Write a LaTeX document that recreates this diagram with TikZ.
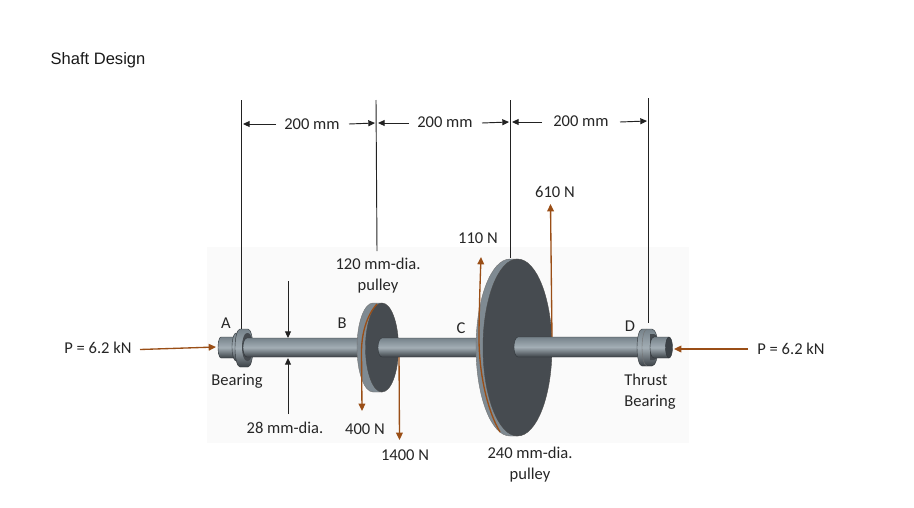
\documentclass[tikz,border=0pt]{standalone}
\usepackage{fontspec}
\setmainfont{Carlito}
\newfontfamily\titlefont{Liberation Sans}
\usetikzlibrary{arrows.meta}
\definecolor{brownline}{HTML}{9A4E16}
\definecolor{dimline}{HTML}{222222}
\definecolor{plate}{HTML}{464B50}
\definecolor{rim}{HTML}{7F8A92}
\definecolor{steeltop}{HTML}{76828A}
\definecolor{steelmid}{HTML}{A3AEB5}
\definecolor{steelbot}{HTML}{3C4247}
\tikzset{
  lab/.style={inner sep=0pt,font=\fontsize{12.4pt}{15.75pt}\selectfont,text=black!85,align=center},
  dimarrow/.style={draw=dimline,line width=0.7pt,-{Triangle[length=5pt,width=4.5pt]}},
  extline/.style={draw=dimline,line width=0.7pt},
  force/.style={draw=brownline,line width=1pt,-{Triangle[length=5.5pt,width=5pt]}},
  steel/.style={top color=steeltop,bottom color=steelbot,middle color=steelmid,draw=steelbot!80!black,line width=0.3pt},
  disc/.style={fill=plate,draw=black!70,line width=0.3pt},
  rimdisc/.style={fill=rim,draw=black!55,line width=0.3pt},
}
\begin{document}
\begin{tikzpicture}[x=0.75pt,y=-0.75pt]
\useasboundingbox (0,0) rectangle (914,507);
\fill[white] (0,0) rectangle (914,507);
\fill[black!2] (207,247) rectangle (689,443);

\node[inner sep=0pt,font=\titlefont\fontsize{12.4pt}{15pt}\selectfont,text=black!90] (title) at (98,60) {Shaft Design};

% extension lines
\coordinate (a1) at (241,100); \coordinate (a2) at (241,330);
\coordinate (b1) at (376,100); \coordinate (b2) at (377,251);
\coordinate (c1) at (510,100); \coordinate (c2) at (510,258);
\coordinate (d1) at (648,98);  \coordinate (d2) at (648,323);
\draw[extline] (a1) -- (a2);
\draw[extline] (b1) -- (b2);
\draw[extline] (c1) -- (c2);
\draw[extline] (d1) -- (d2);

% dimensions
\node[lab] (d200a) at (312,124) {200 mm};
\node[lab] (d200b) at (445,122) {200 mm};
\node[lab] (d200c) at (581,121) {200 mm};
\coordinate (a1s) at (276,124); \coordinate (a1e) at (243,124);
\coordinate (a2s) at (349,124); \coordinate (a2e) at (375,123);
\coordinate (b1s) at (409,123); \coordinate (b1e) at (378,123);
\coordinate (b2s) at (482,123); \coordinate (b2e) at (509,122);
\coordinate (c1s) at (542,122); \coordinate (c1e) at (512,122);
\coordinate (c2s) at (620,122); \coordinate (c2e) at (647,121);
\draw[dimarrow] (a1s) -- (a1e);
\draw[dimarrow] (a2s) -- (a2e);
\draw[dimarrow] (b1s) -- (b1e);
\draw[dimarrow] (b2s) -- (b2e);
\draw[dimarrow] (c1s) -- (c1e);
\draw[dimarrow] (c2s) -- (c2e);

% left stub and bearing A
\draw[steel] (221,337) -- (234,337) -- (234,358) -- (221,358) arc[start angle=90,end angle=270,x radius=3,y radius=10.5] -- cycle;
\draw[steel] (236,333) -- (240,333) -- (240,361) -- (236,361) arc[start angle=90,end angle=270,x radius=4,y radius=14] -- cycle;
\draw[steel] (240,329) -- (248,329) arc[start angle=-90,end angle=90,x radius=5,y radius=19] -- (240,367) arc[start angle=90,end angle=270,x radius=5,y radius=19] -- cycle;
% shaft A-B
\fill[plate] (248,333) arc[start angle=-90,end angle=90,x radius=5,y radius=14] -- (247,361) arc[start angle=90,end angle=270,x radius=5,y radius=14] -- cycle;
\draw[steel] (247,338) -- (360,338) -- (360,357) -- (247,357) arc[start angle=90,end angle=270,x radius=4,y radius=9.5] -- cycle;

% pulley B
\draw[rimdisc] (373,303) -- (382,303) -- (382,392) -- (373,392) arc[start angle=90,end angle=270,x radius=16,y radius=44.5] -- cycle;
\draw[disc] (382,347.5) ellipse[x radius=16.5,y radius=44.5];
\coordinate (bb0) at (377,304); \coordinate (bb1) at (362,411);
\draw[force] (bb0) .. controls (366,316) and (361.5,335) .. (361.5,352) -- (bb1);
\coordinate (bf0) at (399,352); \coordinate (bf1) at (399.5,440);
\draw[force] (bf0) -- (bf1);
% shaft B-C, visible on the face of B and beyond
\draw[steel] (382,338) -- (478,338) -- (478,357) -- (382,357) arc[start angle=90,end angle=270,x radius=4,y radius=9.5] -- cycle;

% pulley C
\draw[rimdisc] (510,259) -- (517.5,259) -- (517.5,436) -- (510,436) arc[start angle=90,end angle=270,x radius=34,y radius=88.5] -- cycle;
\coordinate (cb0) at (500,432); \coordinate (cb1) at (481,257);
\draw[force] (cb0) .. controls (488,412) and (479,375) .. (479,338) .. controls (479,315) and (480,285) .. (cb1);
\draw[disc] (517.5,347.5) ellipse[x radius=34.5,y radius=88.5];
\coordinate (cf0) at (552,338); \coordinate (cf1) at (550.5,204);
\draw[force] (cf0) -- (cf1);
% shaft C-D
\draw[steel] (518,337) -- (640,337) -- (640,357) -- (518,357) arc[start angle=90,end angle=270,x radius=4,y radius=10] -- cycle;

% bearing D
\draw[steel] (642,329) -- (652,329) arc[start angle=-90,end angle=90,x radius=6,y radius=18.5] -- (642,366) arc[start angle=90,end angle=270,x radius=5,y radius=18.5] -- cycle;
\draw[black!55,line width=0.3pt] (647,329) arc[start angle=270,end angle=90,x radius=5,y radius=18.5];
\fill[plate] (654,334) arc[start angle=-90,end angle=90,x radius=5,y radius=13] -- (650,360) -- (650,334) -- cycle;
\draw[steel] (654,337) -- (669,337) -- (669,358) -- (654,358) arc[start angle=90,end angle=270,x radius=4,y radius=10.5] -- cycle;
\draw[fill=steelbot,draw=steelbot!80!black,line width=0.3pt] (669,347.5) ellipse[x radius=3.5,y radius=10.5];

% shaft diameter
\coordinate (s1) at (288,281); \coordinate (s2) at (288,338);
\coordinate (s3) at (288,414); \coordinate (s4) at (288,358);
\draw[dimarrow] (s1) -- (s2);
\draw[dimarrow] (s3) -- (s4);

% axial forces
\coordinate (p1) at (140,349.5); \coordinate (p2) at (216,347);
\coordinate (p3) at (748,349);  \coordinate (p4) at (674,349);
\draw[force] (p1) -- (p2);
\draw[force] (p3) -- (p4);

% labels
\node[lab] (lp1) at (98,348) {P = 6.2 kN};
\node[lab] (lp2) at (791,349) {P = 6.2 kN};
\node[lab] (la) at (226,323) {A};
\node[lab] (lb) at (342,323) {B};
\node[lab] (lc) at (461,328) {C};
\node[lab] (ld) at (630,326) {D};
\node[lab] (lbearing) at (237,381.5) {Bearing};
\node[lab,align=left] (lthrust) at (650,391.5) {Thrust\\Bearing};
\node[lab] (ldia) at (285,427.5) {28 mm-dia.};
\node[lab] (l400) at (365,429) {400 N};
\node[lab] (l1400) at (405,455) {1400 N};
\node[lab] (l110) at (478,238) {110 N};
\node[lab] (l610) at (555,192) {610 N};
\node[lab] (lp120) at (378,276) {120 mm-dia.\\pulley};
\node[lab] (lp240) at (530,464.5) {240 mm-dia.\\pulley};
\end{tikzpicture}
\end{document}
